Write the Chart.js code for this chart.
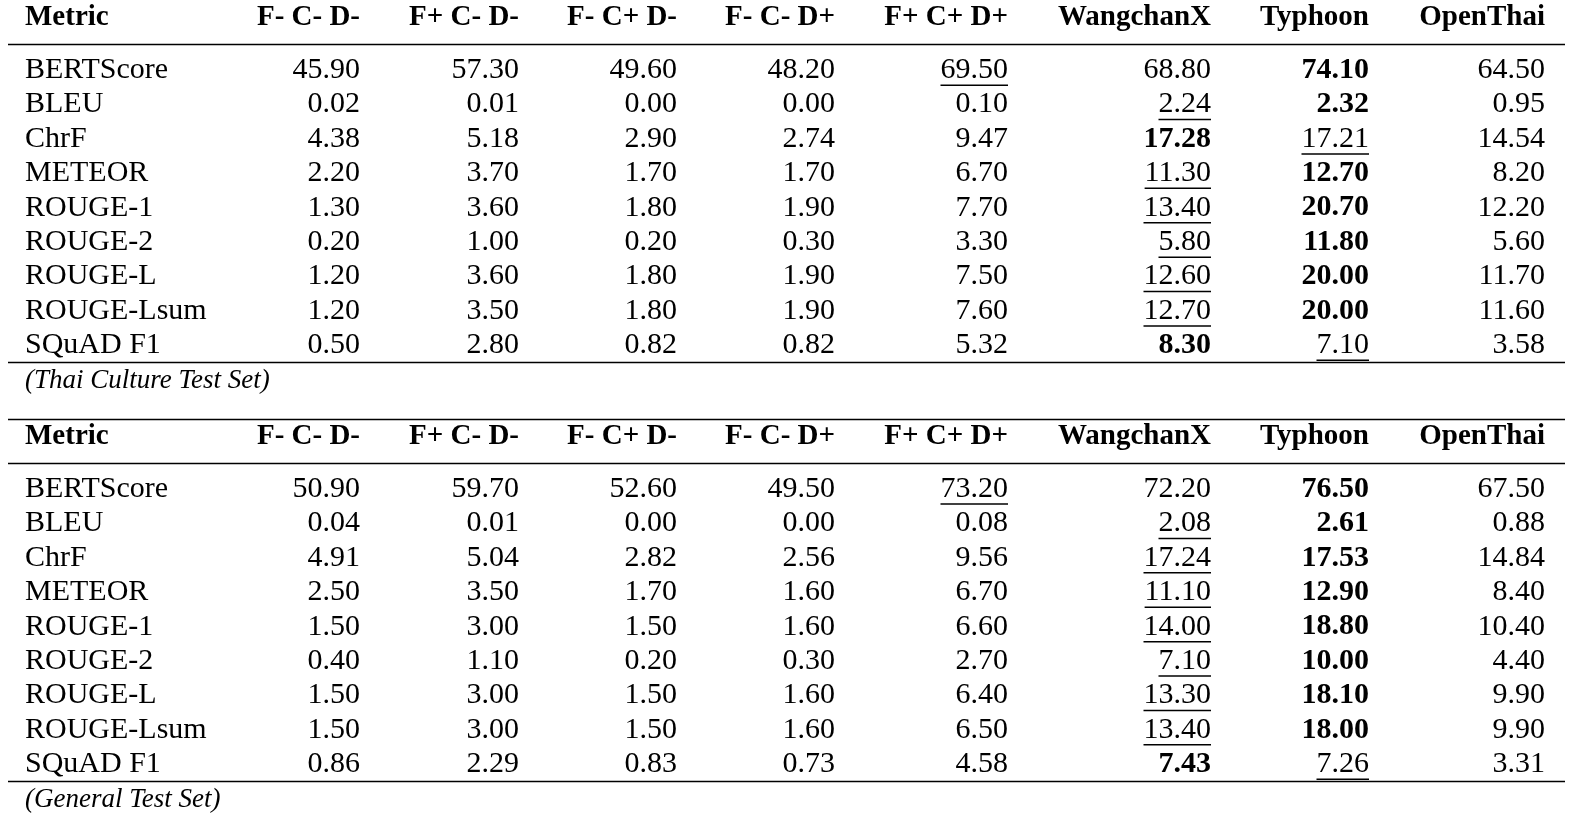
<!DOCTYPE html>
<html><head><meta charset="utf-8">
<script src="https://cdn.jsdelivr.net/npm/chart.js@4/dist/chart.umd.min.js"></script>
<style>html,body{margin:0;padding:0;background:#fff}#wrap{width:1581px;height:822px}</style>
</head><body><div id="wrap"><canvas id="c"></canvas></div>
<script>
const columns = ["Metric","F- C- D-","F+ C- D-","F- C+ D-","F- C- D+","F+ C+ D+","WangchanX","Typhoon","OpenThai"];
const metrics = ["BERTScore","BLEU","ChrF","METEOR","ROUGE-1","ROUGE-2","ROUGE-L","ROUGE-Lsum","SQuAD F1"];
const thaiValues = [
 [45.90,57.30,49.60,48.20,69.50,68.80,74.10,64.50],
 [0.02,0.01,0.00,0.00,0.10,2.24,2.32,0.95],
 [4.38,5.18,2.90,2.74,9.47,17.28,17.21,14.54],
 [2.20,3.70,1.70,1.70,6.70,11.30,12.70,8.20],
 [1.30,3.60,1.80,1.90,7.70,13.40,20.70,12.20],
 [0.20,1.00,0.20,0.30,3.30,5.80,11.80,5.60],
 [1.20,3.60,1.80,1.90,7.50,12.60,20.00,11.70],
 [1.20,3.50,1.80,1.90,7.60,12.70,20.00,11.60],
 [0.50,2.80,0.82,0.82,5.32,8.30,7.10,3.58]];
const thaiBold = [7,7,6,7,7,7,7,7,6];
const thaiUnder = [5,6,7,6,6,6,6,6,7];
const generalValues = [
 [50.90,59.70,52.60,49.50,73.20,72.20,76.50,67.50],
 [0.04,0.01,0.00,0.00,0.08,2.08,2.61,0.88],
 [4.91,5.04,2.82,2.56,9.56,17.24,17.53,14.84],
 [2.50,3.50,1.70,1.60,6.70,11.10,12.90,8.40],
 [1.50,3.00,1.50,1.60,6.60,14.00,18.80,10.40],
 [0.40,1.10,0.20,0.30,2.70,7.10,10.00,4.40],
 [1.50,3.00,1.50,1.60,6.40,13.30,18.10,9.90],
 [1.50,3.00,1.50,1.60,6.50,13.40,18.00,9.90],
 [0.86,2.29,0.83,0.73,4.58,7.43,7.26,3.31]];
const generalBold = [7,7,7,7,7,7,7,7,6];
const generalUnder = [5,6,6,6,6,6,6,6,7];
const captions = ["(Thai Culture Test Set)","(General Test Set)"];

// layout: column anchor positions (left edge of Metric, right edges of value columns) in x-scale units
const colAnchor=[25,360,519,677,835,1008,1211,1369,1545];
const tables=[{v:thaiValues,b:thaiBold,u:thaiUnder,top:0},{v:generalValues,b:generalBold,u:generalUnder,top:12.18}];
const FONT='"Liberation Serif","DejaVu Serif",serif';
const tablePlugin={id:'tbl',afterDraw(ch){
 const c=ch.ctx,x=ch.scales.x,y=ch.scales.y;
 const L=x.left,R=x.right;
 c.save();c.fillStyle='#000';c.strokeStyle='#000';c.textBaseline='middle';
 const rule=(r,w)=>{const py=Math.round(y.getPixelForValue(r))+0.5;c.lineWidth=w;c.beginPath();c.moveTo(L+8,py);c.lineTo(R-16,py);c.stroke();};
 const colX=i=>x.getPixelForValue(colAnchor[i]);
 tables.forEach((t,ti)=>{
  const hy=y.getPixelForValue(t.top);
  c.font='bold 29px '+FONT;
  columns.forEach((h,i)=>{c.textAlign=i===0?'left':'right';c.fillText(h,colX(i),hy);});
  if(ti===1) rule(t.top-0.5,1.5);
  rule(t.top+0.78,1.5);
  metrics.forEach((m,r)=>{
   const py=y.getPixelForValue(t.top+1.54+r);
   c.font='30px '+FONT;c.textAlign='left';c.fillText(m,colX(0),py);
   t.v[r].forEach((val,k)=>{
    const i=k+1,s=val.toFixed(2);
    c.font=(t.b[r]===i?'bold ':'')+'30px '+FONT;c.textAlign='right';
    const px=colX(i);c.fillText(s,px,py);
    if(t.u[r]===i){const w=c.measureText(s).width;c.lineWidth=1.5;c.beginPath();c.moveTo(px-w,py+15);c.lineTo(px,py+15);c.stroke();}
   });
  });
  rule(t.top+10.02,1.5);
  c.font='italic 27px '+FONT;c.textAlign='left';
  c.fillText(captions[ti],colX(0),y.getPixelForValue(t.top+10.58));
 });
 c.restore();}};
new Chart(document.getElementById('c'),{type:'scatter',data:{datasets:[{data:[]}]},
 options:{responsive:true,maintainAspectRatio:false,animation:false,layout:{padding:0},
  plugins:{legend:{display:false},tooltip:{enabled:false}},
  scales:{x:{type:'linear',min:0,max:1581,display:false},
          y:{type:'linear',min:-0.5,max:23.4,reverse:true,display:false}}},
 plugins:[tablePlugin]});
</script></body></html>
